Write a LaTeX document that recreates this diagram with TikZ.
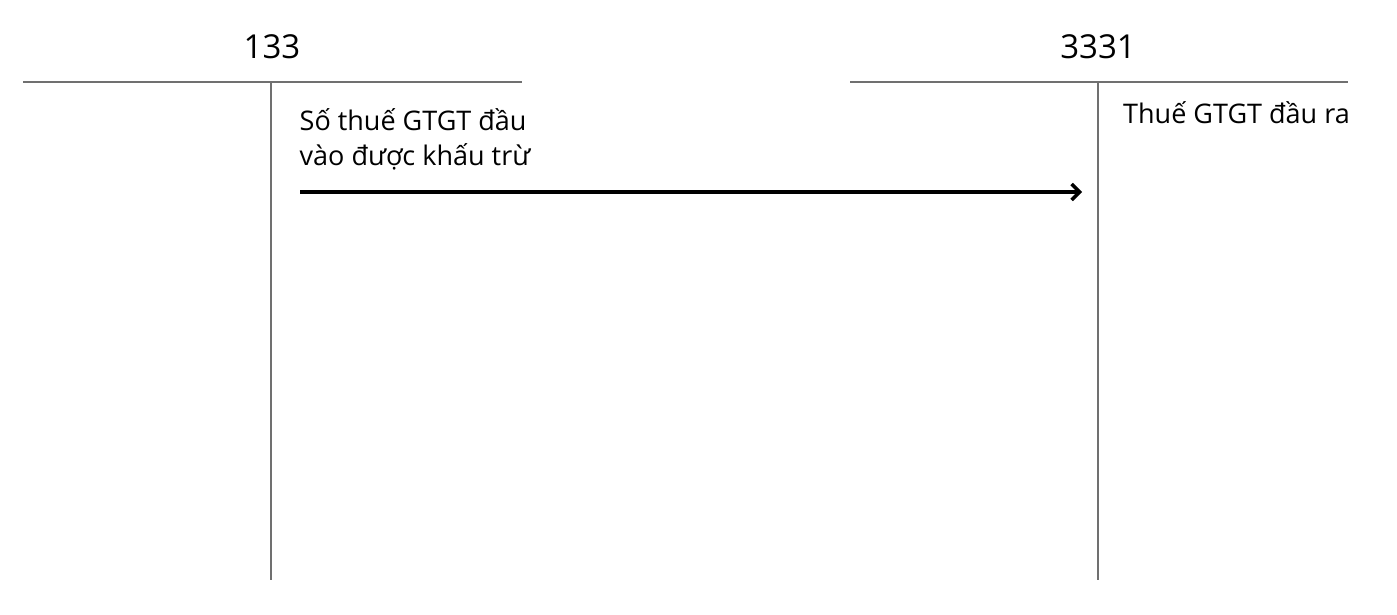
\documentclass[tikz,border=0pt]{standalone}
\usepackage{fontspec}
\setmainfont{Open Sans}
\usetikzlibrary{arrows.meta}
\begin{document}
\begin{tikzpicture}[x=1pt,y=-1pt,
  tline/.style={draw=black!56,line width=1.3pt},
  flow/.style={draw=black,line width=3.6pt,-{Straight Barb[length=8pt,width=16pt,line width=3.4pt]}},
  title/.style={inner sep=0pt,anchor=base,font=\fontsize{33}{38}\selectfont},
  lbl/.style={inner sep=0pt,anchor=base west,font=\fontsize{27}{31}\selectfont}]
\useasboundingbox (0,0) rectangle (1397,614);
% left T-account
\node[title] (t133) at (272,58.5) {133};
\coordinate (l1) at (23,82);
\coordinate (l2) at (522,82);
\coordinate (lv1) at (271,82);
\coordinate (lv2) at (271,580);
\draw[tline] (l1) -- (l2);
\draw[tline] (lv1) -- (lv2);
% right T-account
\node[title] (t3331) at (1098,58.5) {3331};
\coordinate (r1) at (850,82);
\coordinate (r2) at (1348,82);
\coordinate (rv1) at (1098,82);
\coordinate (rv2) at (1098,580);
\draw[tline] (r1) -- (r2);
\draw[tline] (rv1) -- (rv2);
% labels
\node[lbl] (a1) at (299.5,130.5) {Số thuế GTGT đầu};
\node[lbl] (a2) at (299.5,165.5) {vào được khấu trừ};
\node[lbl] (b1) at (1123,123) {Thuế GTGT đầu ra};
% arrow
\coordinate (s) at (300,192);
\coordinate (e) at (1082,192);
\draw[flow] (s) -- (e);
\end{tikzpicture}
\end{document}
